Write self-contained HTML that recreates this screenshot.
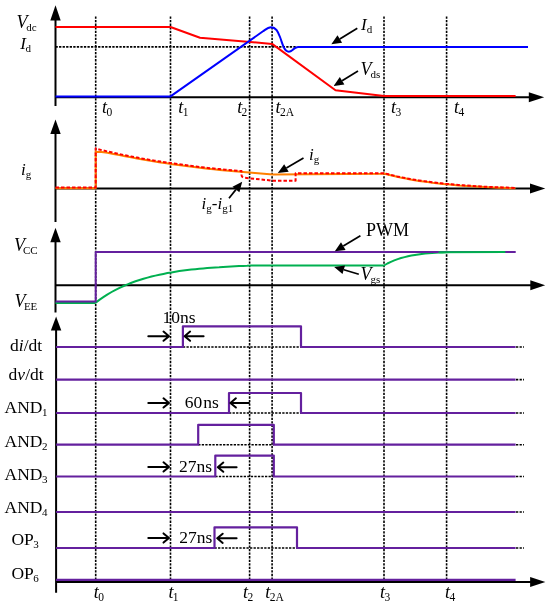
<!DOCTYPE html>
<html><head><meta charset="utf-8"><title>Gate driver timing waveforms</title>
<style>
html,body{margin:0;padding:0;background:#fff;}
svg{display:block;font-family:"Liberation Serif",serif;fill:#000;}
svg text{fill:#000;}
</style></head><body>
<svg width="550" height="608" viewBox="0 0 550 608">
<rect width="550" height="608" fill="#fff"/>
<line x1="95.7" y1="16.5" x2="95.7" y2="582.5" stroke="#000" stroke-width="1.6" stroke-dasharray="2.3 1.25"/>
<line x1="170.5" y1="16.5" x2="170.5" y2="582.5" stroke="#000" stroke-width="1.6" stroke-dasharray="2.3 1.25"/>
<line x1="249.6" y1="16.5" x2="249.6" y2="582.5" stroke="#000" stroke-width="1.6" stroke-dasharray="2.3 1.25"/>
<line x1="272.1" y1="16.5" x2="272.1" y2="582.5" stroke="#000" stroke-width="1.6" stroke-dasharray="2.3 1.25"/>
<line x1="384.0" y1="16.5" x2="384.0" y2="582.5" stroke="#000" stroke-width="1.6" stroke-dasharray="2.3 1.25"/>
<line x1="446.6" y1="16.5" x2="446.6" y2="582.5" stroke="#000" stroke-width="1.6" stroke-dasharray="2.3 1.25"/>
<line x1="55.5" y1="19" x2="55.5" y2="106" stroke="#000" stroke-width="2" />
<polygon points="55.5,5.3 50.3,20.4 60.7,20.4" fill="#000"/>
<line x1="55.5" y1="97.3" x2="531" y2="97.3" stroke="#000" stroke-width="2" />
<polygon points="544.2,97.3 528.8,92.3 528.8,102.3" fill="#000"/>
<line x1="55.5" y1="46.9" x2="296" y2="46.9" stroke="#000" stroke-width="1.6" stroke-dasharray="2.3 1.25"/>
<path d="M55.5,27 L170.5,27 L200,37.8 L272.1,43.9 L335.5,90.3 L384.0,96.1 L515.6,96.1" fill="none" stroke="#ff0000" stroke-width="2" stroke-linejoin="round" />
<path d="M55.5,96.4 L170.5,96.4 L263,31.3 C266,29.2 268,27.2 271,27.2 C276,27.2 278,32 280,37 C282,42 283,48 286,50.5 C288,52.2 290.5,51.8 292.5,50 C294.5,48 295.5,46.9 298,46.9 L528,46.9" fill="none" stroke="#0000ff" stroke-width="2" stroke-linejoin="round" />
<text x="16.5" y="28" font-size="18" text-anchor="start"><tspan font-style="italic">V</tspan><tspan font-size="11" dy="3" dx="-1.2">dc</tspan></text>
<text x="20.3" y="49" font-size="17" text-anchor="start"><tspan font-style="italic">I</tspan><tspan font-size="11" dy="3" dx="-0.5">d</tspan></text>
<text x="361" y="30" font-size="17" text-anchor="start"><tspan font-style="italic">I</tspan><tspan font-size="11" dy="3">d</tspan></text>
<text x="360.5" y="75" font-size="18" text-anchor="start"><tspan font-style="italic">V</tspan><tspan font-size="11" dy="3" dx="-1">ds</tspan></text>
<line x1="357.3" y1="28.2" x2="339.8" y2="39.0" stroke="#000" stroke-width="1.7"/>
<polygon points="331.3,44.2 337.5,35.2 342.1,42.7" fill="#000"/>
<line x1="358.0" y1="71.0" x2="342.1" y2="80.8" stroke="#000" stroke-width="1.7"/>
<polygon points="333.6,86.0 339.8,77.0 344.4,84.5" fill="#000"/>
<text x="102" y="113" font-size="18" text-anchor="start"><tspan font-style="italic">t</tspan><tspan font-size="11.5" dy="3" dx="-0.6">0</tspan></text>
<text x="178.3" y="113" font-size="18" text-anchor="start"><tspan font-style="italic">t</tspan><tspan font-size="11.5" dy="3" dx="-0.6">1</tspan></text>
<text x="237.2" y="113" font-size="18" text-anchor="start"><tspan font-style="italic">t</tspan><tspan font-size="11.5" dy="3" dx="-0.6">2</tspan></text>
<text x="275.5" y="113" font-size="18" text-anchor="start"><tspan font-style="italic">t</tspan><tspan font-size="11.5" dy="3" dx="-0.6">2A</tspan></text>
<text x="391" y="113" font-size="18" text-anchor="start"><tspan font-style="italic">t</tspan><tspan font-size="11.5" dy="3" dx="-0.6">3</tspan></text>
<text x="454" y="113" font-size="18" text-anchor="start"><tspan font-style="italic">t</tspan><tspan font-size="11.5" dy="3" dx="-0.6">4</tspan></text>
<line x1="55.5" y1="133" x2="55.5" y2="222" stroke="#000" stroke-width="2" />
<polygon points="55.5,119.6 50.3,134 60.7,134" fill="#000"/>
<line x1="55.5" y1="188.4" x2="531" y2="188.4" stroke="#000" stroke-width="2" />
<polygon points="545.3,188.4 530,183.4 530,193.4" fill="#000"/>
<path d="M55.5,188.2 L95.7,188.2 L95.7,151 L95.7,151.9 L101.6,152.1 L107.5,152.8 L113.4,153.9 L119.3,155.0 L125.2,156.2 L131.1,157.3 L137.0,158.4 L142.9,159.5 L148.8,160.5 L154.7,161.5 L160.6,162.4 L166.5,163.3 L172.4,164.2 L178.3,165.0 L184.2,165.8 L190.1,166.6 L196.0,167.3 L201.9,168.0 L207.8,168.7 L213.7,169.3 L219.6,169.9 L225.5,170.5 L231.4,171.1 L237.3,171.6 L243.2,172.1 L249.1,172.6 L255.0,173.1 L260.9,173.6 L266.8,174.0 L272.7,174.4 L384.0,173.8 L384.0,173.5 L388.4,174.7 L392.8,175.8 L397.1,176.8 L401.5,177.7 L405.9,178.6 L410.3,179.4 L414.7,180.2 L419.1,180.9 L423.4,181.5 L427.8,182.1 L432.2,182.7 L436.6,183.2 L441.0,183.7 L445.4,184.2 L449.8,184.6 L454.1,185.0 L458.5,185.4 L462.9,185.7 L467.3,186.0 L471.7,186.3 L476.1,186.6 L480.4,186.8 L484.8,187.1 L489.2,187.3 L493.6,187.5 L498.0,187.7 L502.4,187.8 L506.7,188.0 L511.1,188.2 L515.5,188.3" fill="none" stroke="#ff8000" stroke-width="2" stroke-linejoin="round" />
<path d="M55.5,187.4 L95.7,187.4 L95.7,148.2 L95.7,148.6 L101.6,150.1 L107.5,151.5 L113.4,152.8 L119.3,154.1 L125.2,155.3 L131.1,156.5 L137.0,157.6 L142.9,158.7 L148.8,159.7 L154.7,160.7 L160.6,161.6 L166.5,162.5 L172.4,163.4 L178.3,164.2 L184.2,165.0 L190.1,165.8 L196.0,166.5 L201.9,167.2 L207.8,167.9 L213.7,168.5 L219.6,169.1 L225.5,169.7 L231.4,170.3 L237.3,170.8 L241.5,171 L241.5,175 Q241.5,177.5 245,177.8 L272.7,180.7 L295.6,180.7 L295.6,173.2 L384.0,173.2 L384.0,173.1 L388.4,174.3 L392.8,175.4 L397.1,176.4 L401.5,177.3 L405.9,178.2 L410.3,179.0 L414.7,179.8 L419.1,180.5 L423.4,181.1 L427.8,181.7 L432.2,182.3 L436.6,182.8 L441.0,183.3 L445.4,183.8 L449.8,184.2 L454.1,184.6 L458.5,185.0 L462.9,185.3 L467.3,185.6 L471.7,185.9 L476.1,186.2 L480.4,186.4 L484.8,186.7 L489.2,186.9 L493.6,187.1 L498.0,187.3 L502.4,187.4 L506.7,187.6 L511.1,187.8 L515.5,187.9" fill="none" stroke="#ff0000" stroke-width="2" stroke-linejoin="round" stroke-dasharray="3.5 2"/>
<text x="21" y="175" font-size="17" text-anchor="start"><tspan font-style="italic">i</tspan><tspan font-size="11" dy="3">g</tspan></text>
<text x="309" y="160" font-size="17" text-anchor="start"><tspan font-style="italic">i</tspan><tspan font-size="11" dy="3">g</tspan></text>
<line x1="303.5" y1="158.0" x2="286.4" y2="168.0" stroke="#000" stroke-width="1.7"/>
<polygon points="277.8,173.0 284.2,164.2 288.7,171.8" fill="#000"/>
<text x="201.5" y="209" font-size="17"><tspan font-style="italic">i</tspan><tspan font-size="11" dy="3">g</tspan><tspan dy="-3">-</tspan><tspan font-style="italic">i</tspan><tspan font-size="11" dy="3">g1</tspan></text>
<line x1="229.0" y1="198.2" x2="235.9" y2="189.6" stroke="#000" stroke-width="1.7"/>
<polygon points="242.2,181.8 239.4,192.3 232.5,186.8" fill="#000"/>
<line x1="55.5" y1="241" x2="55.5" y2="312.5" stroke="#000" stroke-width="2" />
<polygon points="55.5,227.7 50.3,242.3 60.7,242.3" fill="#000"/>
<line x1="55.5" y1="285.3" x2="531" y2="285.3" stroke="#000" stroke-width="2" />
<polygon points="545.2,285.3 530.3,280.3 530.3,290.3" fill="#000"/>
<path d="M55.5,303 L94.7,303 L95.7,302.6 L99.7,299.6 L103.7,296.9 L107.6,294.3 L111.6,292.0 L115.6,289.8 L119.6,287.9 L123.6,286.0 L127.6,284.3 L131.5,282.7 L135.5,281.3 L139.5,280.0 L143.5,278.7 L147.5,277.6 L151.5,276.5 L155.4,275.6 L159.4,274.7 L163.4,273.9 L167.4,273.1 L171.4,272.4 L175.4,271.7 L179.3,271.1 L183.3,270.6 L187.3,270.1 L191.3,269.6 L195.3,269.2 L199.2,268.8 L203.2,268.4 L207.2,268.0 L211.2,267.7 L215.2,267.4 L219.2,267.2 L223.1,266.9 L227.1,266.7 L231.1,266.5 L235.1,266.3 L239.1,266.1 L243.1,265.9 L247.0,265.8 L251.0,265.6 L255.0,265.5 L384.0,265.5 L384.0,265.5 L387.4,263.5 L390.9,261.8 L394.3,260.4 L397.7,259.1 L401.1,258.0 L404.6,257.1 L408.0,256.3 L411.4,255.6 L414.9,255.0 L418.3,254.5 L421.7,254.0 L425.2,253.6 L428.6,253.3 L432.0,253.0 L435.5,252.8 L438.9,252.6 L442.3,252.4 L445.7,252.2 L449.2,252.1 L452.6,252.0 L504.5,252" fill="none" stroke="#00b050" stroke-width="2" stroke-linejoin="round" />
<path d="M55.5,301.6 L95.7,301.6 L95.7,252 L515.7,252" fill="none" stroke="#64209e" stroke-width="2" stroke-linejoin="round" />
<path d="M438.6,252.3 L505.3,252" fill="none" stroke="#00b050" stroke-width="2" stroke-linejoin="round" />
<text x="14" y="251.2" font-size="18" text-anchor="start"><tspan font-style="italic">V</tspan><tspan font-size="11" dy="3" dx="-2">CC</tspan></text>
<text x="14.5" y="306.8" font-size="18" text-anchor="start"><tspan font-style="italic">V</tspan><tspan font-size="11" dy="3" dx="-1.6">EE</tspan></text>
<text x="366" y="235.6" font-size="18" text-anchor="start" >PWM</text>
<text x="360.5" y="280.2" font-size="18" text-anchor="start"><tspan font-style="italic">V</tspan><tspan font-size="11" dy="3" dx="-1">gs</tspan></text>
<line x1="360.4" y1="235.7" x2="343.3" y2="246.1" stroke="#000" stroke-width="1.7"/>
<polygon points="334.8,251.3 341.0,242.3 345.6,249.9" fill="#000"/>
<line x1="358.8" y1="274.3" x2="343.8" y2="269.8" stroke="#000" stroke-width="1.7"/>
<polygon points="334.2,267.0 345.0,265.6 342.5,274.1" fill="#000"/>
<line x1="56.1" y1="330" x2="56.1" y2="592.8" stroke="#000" stroke-width="2" />
<polygon points="56.1,316.6 50.9,330.5 61.300000000000004,330.5" fill="#000"/>
<line x1="56.1" y1="581.9" x2="531" y2="581.9" stroke="#000" stroke-width="2" />
<polygon points="545.4,581.9 530.1,576.9 530.1,586.9" fill="#000"/>
<line x1="182.9" y1="347" x2="301" y2="347" stroke="#000" stroke-width="1.6" stroke-dasharray="2.3 1.25"/>
<path d="M56.1,347 L182.9,347 L182.9,326.3 L301,326.3 L301,347 L515.6,347" fill="none" stroke="#64209e" stroke-width="2.2" stroke-linejoin="round" stroke-linejoin="miter"/>
<line x1="516" y1="347" x2="524" y2="347" stroke="#000" stroke-width="1.6" stroke-dasharray="2.3 1.25"/>
<path d="M56.1,379.6 L515.6,379.6" fill="none" stroke="#64209e" stroke-width="2.2" stroke-linejoin="round" />
<line x1="516" y1="379.6" x2="524" y2="379.6" stroke="#000" stroke-width="1.6" stroke-dasharray="2.3 1.25"/>
<line x1="229" y1="413" x2="301" y2="413" stroke="#000" stroke-width="1.6" stroke-dasharray="2.3 1.25"/>
<path d="M56.1,413 L229,413 L229,393 L301,393 L301,413 L515.6,413" fill="none" stroke="#64209e" stroke-width="2.2" stroke-linejoin="round" stroke-linejoin="miter"/>
<line x1="516" y1="413" x2="524" y2="413" stroke="#000" stroke-width="1.6" stroke-dasharray="2.3 1.25"/>
<line x1="198.2" y1="444.7" x2="273.8" y2="444.7" stroke="#000" stroke-width="1.6" stroke-dasharray="2.3 1.25"/>
<path d="M56.1,444.7 L198.2,444.7 L198.2,424.8 L273.8,424.8 L273.8,444.7 L515.6,444.7" fill="none" stroke="#64209e" stroke-width="2.2" stroke-linejoin="round" stroke-linejoin="miter"/>
<line x1="516" y1="444.7" x2="524" y2="444.7" stroke="#000" stroke-width="1.6" stroke-dasharray="2.3 1.25"/>
<line x1="215.3" y1="476.5" x2="273.8" y2="476.5" stroke="#000" stroke-width="1.6" stroke-dasharray="2.3 1.25"/>
<path d="M56.1,476.5 L215.3,476.5 L215.3,455.6 L273.8,455.6 L273.8,476.5 L515.6,476.5" fill="none" stroke="#64209e" stroke-width="2.2" stroke-linejoin="round" stroke-linejoin="miter"/>
<line x1="516" y1="476.5" x2="524" y2="476.5" stroke="#000" stroke-width="1.6" stroke-dasharray="2.3 1.25"/>
<path d="M56.1,512 L515.6,512" fill="none" stroke="#64209e" stroke-width="2.2" stroke-linejoin="round" />
<line x1="516" y1="512" x2="524" y2="512" stroke="#000" stroke-width="1.6" stroke-dasharray="2.3 1.25"/>
<line x1="214.5" y1="548" x2="297" y2="548" stroke="#000" stroke-width="1.6" stroke-dasharray="2.3 1.25"/>
<path d="M56.1,548 L214.5,548 L214.5,527.3 L297,527.3 L297,548 L515.6,548" fill="none" stroke="#64209e" stroke-width="2.2" stroke-linejoin="round" stroke-linejoin="miter"/>
<line x1="516" y1="548" x2="524" y2="548" stroke="#000" stroke-width="1.6" stroke-dasharray="2.3 1.25"/>
<path d="M56.1,579.8 L515.6,579.8" fill="none" stroke="#64209e" stroke-width="2.2" stroke-linejoin="round" />
<text x="10" y="350.6" font-size="17.5">d<tspan font-style="italic">i</tspan>/dt</text>
<text x="8.6" y="380.3" font-size="17.5">d<tspan font-style="italic">v</tspan>/dt</text>
<text x="4.6" y="413" font-size="17.5" text-anchor="start"><tspan>AND</tspan><tspan font-size="11" dy="3" dx="-0.6">1</tspan></text>
<text x="4.6" y="446.8" font-size="17.5" text-anchor="start"><tspan>AND</tspan><tspan font-size="11" dy="3" dx="-0.6">2</tspan></text>
<text x="4.6" y="480" font-size="17.5" text-anchor="start"><tspan>AND</tspan><tspan font-size="11" dy="3" dx="-0.6">3</tspan></text>
<text x="4.6" y="512.5" font-size="17.5" text-anchor="start"><tspan>AND</tspan><tspan font-size="11" dy="3" dx="-0.6">4</tspan></text>
<text x="11.4" y="545.3" font-size="17.5" text-anchor="start"><tspan>OP</tspan><tspan font-size="11" dy="3" dx="-0.6">3</tspan></text>
<text x="11.4" y="578.6" font-size="17.5" text-anchor="start"><tspan>OP</tspan><tspan font-size="11" dy="3" dx="-0.6">6</tspan></text>
<path d="M148.3,336.2 L169,336.2 M163.5,331.59999999999997 L169,336.2 L163.5,340.8" fill="none" stroke="#000" stroke-width="2" stroke-linecap="round" stroke-linejoin="round"/>
<path d="M203.6,336.2 L184.6,336.2 M190.1,331.59999999999997 L184.6,336.2 L190.1,340.8" fill="none" stroke="#000" stroke-width="2" stroke-linecap="round" stroke-linejoin="round"/>
<text x="162.5" y="323" font-size="17.5" text-anchor="start" >10ns</text>
<path d="M148.3,402.9 L169,402.9 M163.5,398.29999999999995 L169,402.9 L163.5,407.5" fill="none" stroke="#000" stroke-width="2" stroke-linecap="round" stroke-linejoin="round"/>
<path d="M249,402.9 L230.4,402.9 M235.9,398.29999999999995 L230.4,402.9 L235.9,407.5" fill="none" stroke="#000" stroke-width="2" stroke-linecap="round" stroke-linejoin="round"/>
<text x="184.7" y="408" font-size="17.5" text-anchor="start" >60<tspan dx="1">ns</tspan></text>
<path d="M148.3,466.9 L169,466.9 M163.5,462.29999999999995 L169,466.9 L163.5,471.5" fill="none" stroke="#000" stroke-width="2" stroke-linecap="round" stroke-linejoin="round"/>
<path d="M236.6,467.2 L217.8,467.2 M223.3,462.59999999999997 L217.8,467.2 L223.3,471.8" fill="none" stroke="#000" stroke-width="2" stroke-linecap="round" stroke-linejoin="round"/>
<text x="179" y="472.2" font-size="17.5" text-anchor="start" >27ns</text>
<path d="M148.3,538 L169,538 M163.5,533.4 L169,538 L163.5,542.6" fill="none" stroke="#000" stroke-width="2" stroke-linecap="round" stroke-linejoin="round"/>
<path d="M236.6,538.3 L217.2,538.3 M222.7,533.6999999999999 L217.2,538.3 L222.7,542.9" fill="none" stroke="#000" stroke-width="2" stroke-linecap="round" stroke-linejoin="round"/>
<text x="179.3" y="543.4" font-size="17.5" text-anchor="start" >27ns</text>
<text x="93.8" y="598" font-size="18" text-anchor="start"><tspan font-style="italic">t</tspan><tspan font-size="11.5" dy="3" dx="-0.6">0</tspan></text>
<text x="168.4" y="598" font-size="18" text-anchor="start"><tspan font-style="italic">t</tspan><tspan font-size="11.5" dy="3" dx="-0.6">1</tspan></text>
<text x="243" y="598" font-size="18" text-anchor="start"><tspan font-style="italic">t</tspan><tspan font-size="11.5" dy="3" dx="-0.6">2</tspan></text>
<text x="265.3" y="598" font-size="18" text-anchor="start"><tspan font-style="italic">t</tspan><tspan font-size="11.5" dy="3" dx="-0.6">2A</tspan></text>
<text x="380" y="598" font-size="18" text-anchor="start"><tspan font-style="italic">t</tspan><tspan font-size="11.5" dy="3" dx="-0.6">3</tspan></text>
<text x="445" y="598" font-size="18" text-anchor="start"><tspan font-style="italic">t</tspan><tspan font-size="11.5" dy="3" dx="-0.6">4</tspan></text>
</svg>
</body></html>
